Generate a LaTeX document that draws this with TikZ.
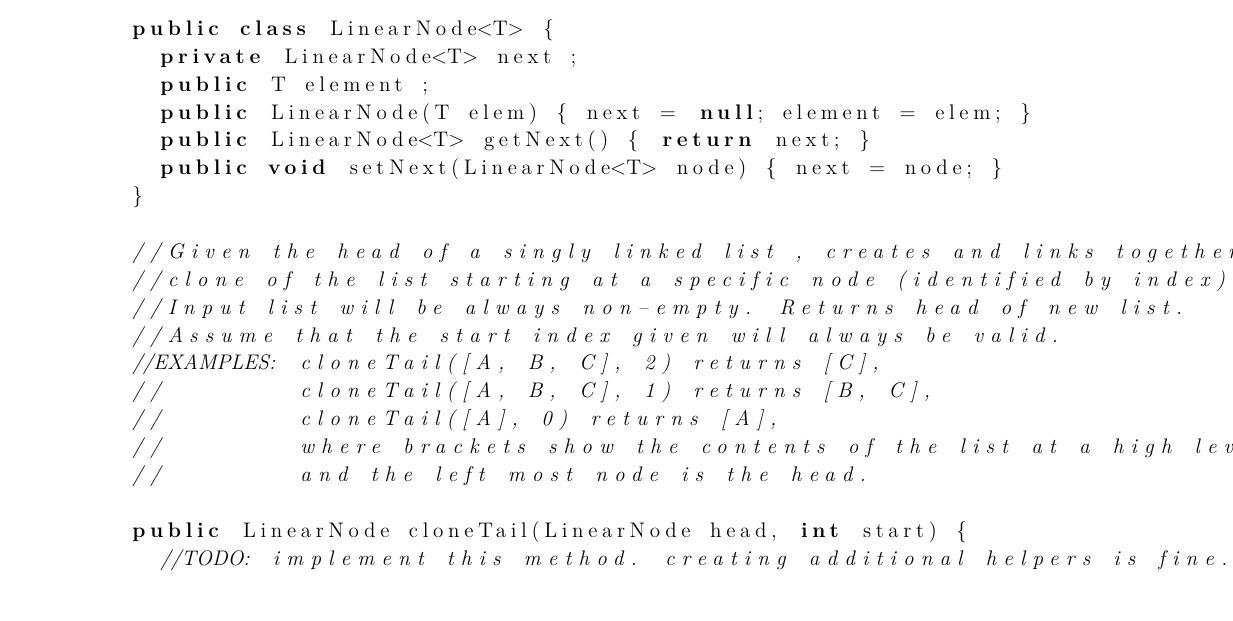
\documentclass[tikz,border=0pt]{standalone}
\usepackage{fontspec}
\setmainfont{Latin Modern Roman}
\newfontfamily\codefont[LetterSpace=22,WordSpace=1.7,Ligatures=NoCommon]{Latin Modern Roman}
\newfontfamily\cmtfont[LetterSpace=34,WordSpace=1.6,Ligatures=NoCommon]{Latin Modern Roman}
\usetikzlibrary{positioning}
\newcommand{\kw}[1]{\textbf{#1}}
\newcommand{\lt}{$<$}
\newcommand{\gt}{$>$}
\tikzset{codeline/.style={anchor=west,inner sep=0pt,font=\fontsize{12}{14}\codefont},
  cmtline/.style={anchor=west,inner sep=0pt,font=\fontsize{12}{14}\cmtfont\itshape}}

\begin{document}
\begin{tikzpicture}[x=0.02cm,y=-0.02cm]
	\useasboundingbox (0,0) rectangle (1233,620);
	% class
	\node[codeline] (l1) at (132,30) {\kw{public class} LinearNode\lt T\gt{} \{};
	\node[codeline] (l2) at (160,58) {\kw{private} LinearNode\lt T\gt{} next ;};
	\node[codeline] (l3) at (160,86) {\kw{public} T element ;};
	\node[codeline] (l4) at (160,114) {\kw{public} LinearNode(T elem) \{ next = \kw{null}; element = elem; \}};
	\node[codeline] (l5) at (160,141) {\kw{public} LinearNode\lt T\gt{} getNext() \{ \kw{return} next; \}};
	\node[codeline] (l6) at (160,169) {\kw{public void} setNext(LinearNode\lt T\gt{} node) \{ next = node; \}};
	\node[codeline] (l7) at (132,197) {\}};
	% comments
	\node[cmtline] (c1) at (132,253) {//Given the head of a singly linked list , creates and links together a};
	\node[cmtline] (c2) at (132,281) {//clone of the list starting at a specific node (identified by index).};
	\node[cmtline] (c3) at (132,309) {//Input list will be always non\textendash empty. Returns head of new list.};
	\node[cmtline] (c4) at (132,337) {//Assume that the start index given will always be valid.};
	\node[cmtline] (c5) at (132,364) {{\addfontfeatures{LetterSpace=0}//EXAMPLES:}};
	\node[cmtline] (e1) at (300,364) {cloneTail([A, B, C], 2) returns [C],};
	\node[cmtline] (c6) at (132,392) {//};
	\node[cmtline] (e2) at (300,392) {cloneTail([A, B, C], 1) returns [B, C],};
	\node[cmtline] (c7) at (132,420) {//};
	\node[cmtline] (e3) at (300,420) {cloneTail([A], 0) returns [A],};
	\node[cmtline] (c8) at (132,448) {//};
	\node[cmtline] (e4) at (300,448) {where brackets show the contents of the list at a high level};
	\node[cmtline] (c9) at (132,476) {//};
	\node[cmtline] (e5) at (300,476) {and the left most node is the head.};
	% method
	\node[codeline] (m1) at (132,532) {\kw{public} LinearNode cloneTail(LinearNode head, \kw{int} start) \{};
	\node[cmtline] (m2) at (160,560) {{\addfontfeatures{LetterSpace=0}//TODO:} implement this method. creating additional helpers is fine.};
\end{tikzpicture}
\end{document}
